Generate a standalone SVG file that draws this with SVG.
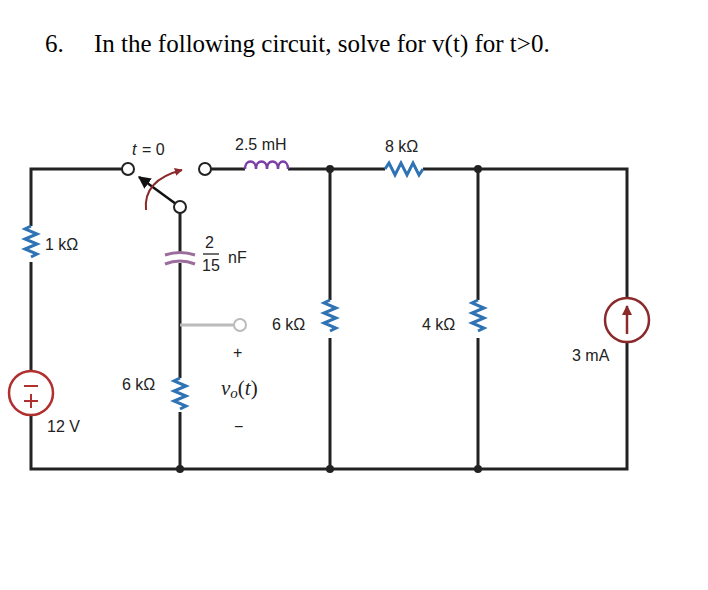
<svg xmlns="http://www.w3.org/2000/svg" width="708" height="590" viewBox="0 0 708 590">
<defs>
<marker id="ab" viewBox="0 0 10 10" refX="9" refY="5" markerWidth="5" markerHeight="5" orient="auto"><path d="M0,0L10,5L0,10z" fill="#111"/></marker>
<marker id="ar" viewBox="0 0 10 10" refX="9" refY="5" markerWidth="4" markerHeight="4" orient="auto"><path d="M0,0L10,5L0,10z" fill="#8b2a2a"/></marker>
</defs>
<style>
.w{stroke:#222;stroke-width:3;fill:none}
.r{stroke:#2f73b5;stroke-width:3;fill:none;stroke-linejoin:miter}
.t{font-family:"Liberation Sans",Arial,sans-serif;font-size:16px;fill:#222}
.d{fill:#222}
</style>
<rect width="708" height="590" fill="#fff"/>
<text x="45" y="52" font-family="Liberation Serif,serif" font-size="25" fill="#000">6.</text>
<text x="94" y="52" font-family="Liberation Serif,serif" font-size="25" fill="#000">In the following circuit, solve for v(t) for t&gt;0.</text>
<g id="connectors">
<path class="w" d="M122,169H31V226M31,262V371M31,415V469H627V342M627,298V169H423M385,169H288M245,169H211"/>
<path class="w" d="M180,213V253M180,263V378M180,412V469"/>
<path class="w" d="M330,169V300M330,338V469M478,169V300M478,338V469"/>
<path d="M180,325H234" stroke="#bbb" stroke-width="3"/>
<circle cx="180" cy="469" r="4" class="d"/><circle cx="330" cy="469" r="4" class="d"/><circle cx="478" cy="469" r="4" class="d"/>
<circle cx="330" cy="169" r="4" class="d"/><circle cx="478" cy="169" r="4" class="d"/>
</g>
<g id="switch">
<line x1="176" y1="204" x2="139" y2="177" stroke="#111" stroke-width="2.5" marker-end="url(#ab)"/>
<circle cx="128" cy="169" r="6" fill="#fff" stroke="#222" stroke-width="2"/>
<circle cx="180" cy="207" r="6" fill="#fff" stroke="#222" stroke-width="2"/>
<circle cx="205" cy="169" r="6" fill="#fff" stroke="#222" stroke-width="2"/>
<path d="M146,210Q143,180 182,170" fill="none" stroke="#8b2a2a" stroke-width="2" marker-end="url(#ar)"/>
<text x="132" y="155" class="t" font-style="italic">t</text><text x="142" y="155" class="t"> = 0</text>
</g>
<g id="L"><path d="M245,169c0,-10 11,-10 11,0c0,-10 11,-10 11,0c0,-10 11,-10 11,0c0,-10 10,-10 10,0" stroke="#7b3fa5" stroke-width="2.5" fill="none"/><text x="235" y="150" class="t">2.5 mH</text></g>
<g id="R8k"><path class="r" d="M385,169l4,-6 6,12 6,-12 6,12 6,-12 6,12 4,-6"/><text x="385" y="152" class="t">8 kΩ</text></g>
<g id="R1k"><path class="r" d="M31,226l-6,3 12,5 -12,5 12,5 -12,5 12,5 -6,3"/><text x="45" y="250" class="t">1 kΩ</text></g>
<g id="V12"><circle cx="31" cy="393" r="22" fill="#fff" stroke="#b03030" stroke-width="2.5"/><path d="M24,386h14M24,401h14M31,394v14" stroke="#b03030" stroke-width="2"/><text x="47" y="432" class="t">12 V</text></g>
<g id="C"><path d="M165,255Q180,250 195,255M165,264Q180,258 195,264" stroke="#9a6d9a" stroke-width="3" fill="none"/><text x="205" y="248" class="t">2</text><line x1="203" y1="254" x2="219" y2="254" stroke="#222" stroke-width="1.3"/><text x="202" y="271" class="t">15</text><text x="228" y="263" class="t">nF</text></g>
<g id="R6a"><path class="r" d="M180,378l-6,3 12,5 -12,5 12,5 -12,5 12,5 -6,3"/><text x="122" y="390" class="t">6 kΩ</text></g>
<g id="vo"><circle cx="240" cy="325" r="6" fill="#fff" stroke="#bbb" stroke-width="2"/><text x="233" y="358" class="t">+</text><text x="221" y="395" font-family="Liberation Serif,serif" font-style="italic" font-size="21" fill="#222">v<tspan font-size="15" dy="3">o</tspan><tspan dy="-3" font-style="normal">(</tspan>t<tspan font-style="normal">)</tspan></text><text x="234" y="432" class="t">−</text></g>
<g id="R6b"><path class="r" d="M330,300l-6,3 12,5 -12,5 12,5 -12,5 12,5 -6,3"/><text x="272" y="330" class="t">6 kΩ</text></g>
<g id="R4"><path class="r" d="M478,300l-6,3 12,5 -12,5 12,5 -12,5 12,5 -6,3"/><text x="422" y="330" class="t">4 kΩ</text></g>
<g id="I3"><circle cx="627" cy="320" r="22" fill="#fff" stroke="#8b2a2a" stroke-width="2.5"/><line x1="627" y1="334" x2="627" y2="306" stroke="#8b2a2a" stroke-width="2.5" marker-end="url(#ar)"/><text x="572" y="361" class="t">3 mA</text></g>
</svg>
